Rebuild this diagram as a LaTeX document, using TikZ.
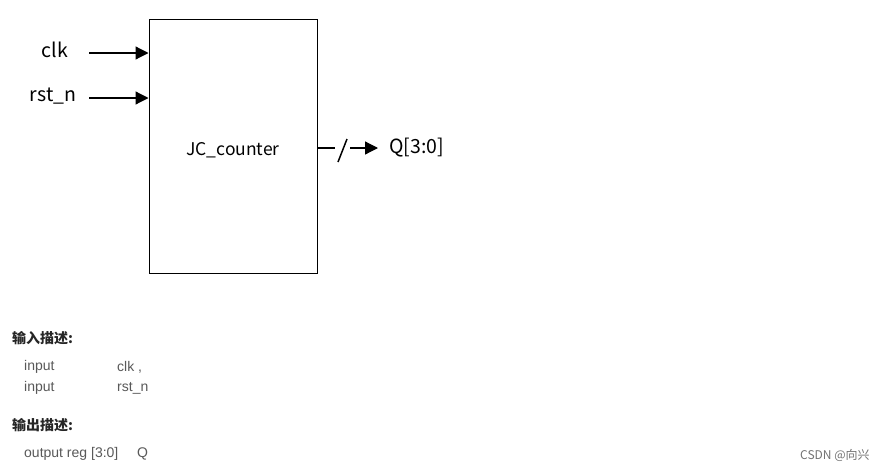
\documentclass[tikz,border=0pt]{standalone}
\usepackage{fontspec}
\setmainfont{Liberation Sans}
\newfontfamily\diagfont{Noto Sans CJK SC}
\newfontfamily\cjk{Noto Sans CJK SC}
\usetikzlibrary{arrows.meta}

\begin{document}
\begin{tikzpicture}[x=1pt, y=-1pt,
    sig/.style={font=\diagfont\fontsize{19.5}{22}\selectfont, inner sep=0pt},
    desc/.style={font=\fontsize{14}{16}\selectfont, text=black!65, anchor=west, inner sep=0pt},
    head/.style={font=\cjk\bfseries\fontsize{14}{16}\selectfont, text=black!85, anchor=west, inner sep=0pt},
    tip/.style={-{Triangle[length=13pt,width=13pt]}, line width=1.2pt}]
  \useasboundingbox[fill=white] (0,0) rectangle (883,471);
  \node (jc) [draw, line width=1pt, minimum width=168pt, minimum height=254pt] at (233,146) {};
  \node (jc-name) [font=\diagfont\fontsize{17.5}{20}\selectfont, inner sep=0pt] at (233,150) {JC\_counter};
  \node (clk) [sig] at (55,50) {clk};
  \node (rst) [sig] at (53,96) {rst\_n};
  \node (q) [sig, anchor=west] at (389,148) {Q[3:0]};
  \coordinate (clk-in) at (89,53);
  \coordinate (rst-in) at (89,98);
  \coordinate (bus) at (335,148);
  \coordinate (q-in) at (350,148);
  \coordinate (q-tip) at (378,148);
  \path[tip]
  (clk-in) edge (jc.west |- clk-in)
  (rst-in) edge (jc.west |- rst-in)
  (q-in) edge (q-tip);
  \draw[line width=1.2pt] (jc.east |- bus) -- (bus);
  \draw[line width=1.5pt] (338,162) -- (347,139);
  % interface description
  \node (in-head) [head] at (12,338) {输入描述:};
  \node (in-1) [desc] at (24,367) {input};
  \node (in-1s) [desc] at (117,367) {clk ,};
  \node (in-2) [desc] at (24,388) {input};
  \node (in-2s) [desc] at (117,388) {rst\_n};
  \node (out-head) [head] at (12,425) {输出描述:};
  \node (out-1) [desc] at (24,454) {output reg [3:0]};
  \node (out-1s) [desc] at (137,454) {Q};
  \node (mark) [anchor=west, inner sep=0pt, text=black!55,
    font=\cjk\fontsize{12}{14}\selectfont] at (800,455) {CSDN @向兴};
\end{tikzpicture}
\end{document}
